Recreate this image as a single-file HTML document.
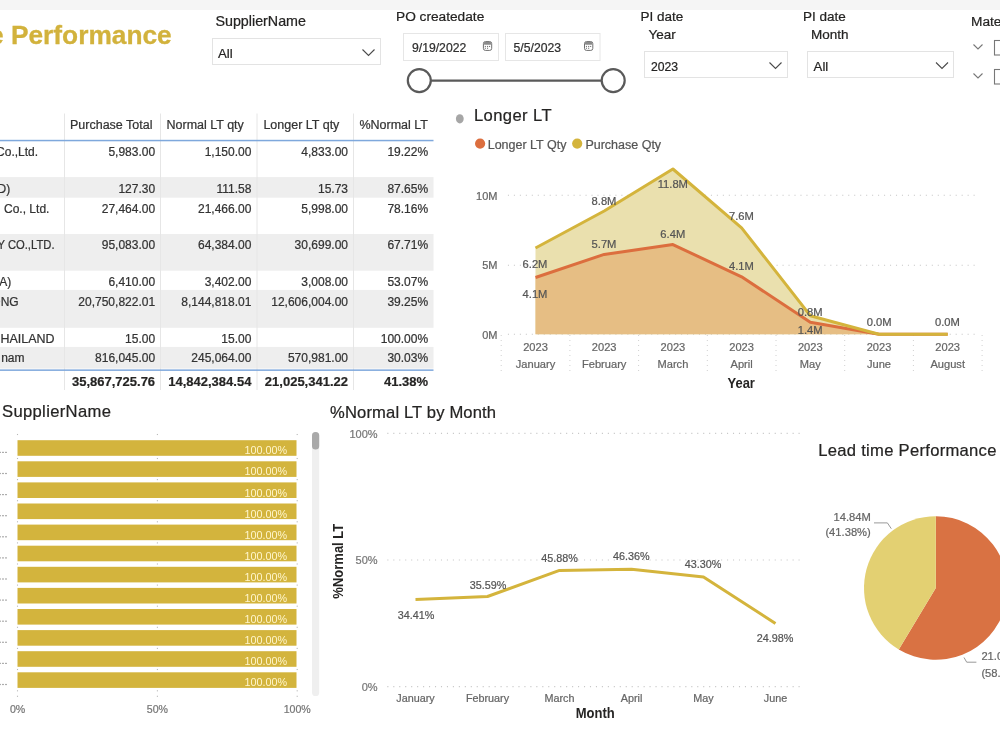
<!DOCTYPE html>
<html><head><meta charset="utf-8">
<style>
html,body{margin:0;padding:0;background:#fff;width:1000px;height:750px;overflow:hidden}
svg{display:block;will-change:transform;font-family:"Liberation Sans",sans-serif}
text{font-family:"Liberation Sans",sans-serif}
#slicers text{stroke:#252423;stroke-width:0.22}
</style></head><body>
<svg width="1000" height="750" viewBox="0 0 1000 750">
<rect stroke="none" x="0" y="0" width="1000" height="750" fill="#fff"/>
<rect stroke="none" x="0" y="0" width="1000" height="10" fill="#f5f5f5"/>

<!-- TITLE -->
<text x="-11" y="43.7" font-size="26.3" font-weight="700" fill="#d2b23c" stroke="#d2b23c" stroke-width="0.3">e Performance</text>

<!-- SLICERS -->
<g id="slicers" fill="#252423">
<text x="215.4" y="26" font-size="14.3">SupplierName</text>
<rect x="212.5" y="38.5" width="168" height="26" fill="#fff" stroke="#e3e3e3" stroke-width="1"/>
<text x="218" y="58" font-size="13.2">All</text>
<path d="M362.5 49.5 L368.5 55.5 L374.5 49.5" fill="none" stroke="#4a4a4a" stroke-width="1.1"/>

<text x="396" y="21.1" font-size="13.7">PO createdate</text>
<rect x="403.5" y="33.5" width="95" height="27" fill="#fff" stroke="#e6e6e6" stroke-width="1"/>
<rect x="505.5" y="33.5" width="94.5" height="27" fill="#fff" stroke="#e6e6e6" stroke-width="1"/>
<text x="412" y="52.3" font-size="12.2" fill="#333" stroke="#333" stroke-width="0.22">9/19/2022</text>
<text x="513.6" y="52.3" font-size="12.2" fill="#333" stroke="#333" stroke-width="0.22">5/5/2023</text>
<g transform="translate(482.9,41.1)"><rect x="0.5" y="0.5" width="8.3" height="8.8" rx="2" fill="none" stroke="#6f6f6f" stroke-width="1"/><rect stroke="none" x="1" y="1" width="7.3" height="2.6" rx="0.8" fill="#8a8a8a"/><g fill="#777"><rect stroke="none" x="1.9" y="4.8" width="1.1" height="1.1"/><rect stroke="none" x="4.1" y="4.8" width="1.1" height="1.1"/><rect stroke="none" x="6.1" y="4.8" width="1.1" height="1.1"/><rect stroke="none" x="1.9" y="6.6" width="1.1" height="1.1"/><rect stroke="none" x="4.1" y="6.6" width="1.1" height="1.1"/></g></g>
<g transform="translate(584,41.1)"><rect x="0.5" y="0.5" width="8.3" height="8.8" rx="2" fill="none" stroke="#6f6f6f" stroke-width="1"/><rect stroke="none" x="1" y="1" width="7.3" height="2.6" rx="0.8" fill="#8a8a8a"/><g fill="#777"><rect stroke="none" x="1.9" y="4.8" width="1.1" height="1.1"/><rect stroke="none" x="4.1" y="4.8" width="1.1" height="1.1"/><rect stroke="none" x="6.1" y="4.8" width="1.1" height="1.1"/><rect stroke="none" x="1.9" y="6.6" width="1.1" height="1.1"/><rect stroke="none" x="4.1" y="6.6" width="1.1" height="1.1"/></g></g>
<line x1="430" y1="80.6" x2="602" y2="80.6" stroke="#5a5a5a" stroke-width="2.4"/>
<circle cx="419.3" cy="80.6" r="11.5" fill="#fff" stroke="#5a5a5a" stroke-width="2.2"/>
<circle cx="613.2" cy="80.6" r="11.5" fill="#fff" stroke="#5a5a5a" stroke-width="2.2"/>

<text x="640.4" y="21" font-size="13.5">PI date</text>
<text x="648.4" y="39" font-size="13.5">Year</text>
<rect x="644.5" y="51.5" width="143" height="26" fill="#fff" stroke="#e3e3e3" stroke-width="1"/>
<text x="651" y="71" font-size="12.2">2023</text>
<path d="M769.5 62.5 L775.5 68.5 L781.5 62.5" fill="none" stroke="#4a4a4a" stroke-width="1.1"/>

<text x="803" y="21" font-size="13.5">PI date</text>
<text x="811" y="39" font-size="13.5">Month</text>
<rect x="807.5" y="51.5" width="146" height="26" fill="#fff" stroke="#e3e3e3" stroke-width="1"/>
<text x="813.6" y="71" font-size="13.2">All</text>
<path d="M936 62.5 L942 68.5 L948 62.5" fill="none" stroke="#4a4a4a" stroke-width="1.1"/>

<text x="971" y="26" font-size="13.7">Mate</text>
<path d="M973.5 44.5 L978 49 L982.5 44.5 M973.5 73.5 L978 78 L982.5 73.5" fill="none" stroke="#777" stroke-width="1.1"/>
<rect x="994.5" y="40.5" width="14" height="14.5" fill="#fff" stroke="#777" stroke-width="1.1"/>
<rect x="994.5" y="69.5" width="14" height="14.5" fill="#fff" stroke="#777" stroke-width="1.1"/>
</g>

<!-- TABLE -->
<g id="table" font-size="12" fill="#333" stroke="#333" stroke-width="0.22">
<rect stroke="none" x="0" y="177.1" width="433.5" height="20.6" fill="#eeeeee"/>
<rect stroke="none" x="0" y="234" width="433.5" height="36.7" fill="#eeeeee"/>
<rect stroke="none" x="0" y="289.9" width="433.5" height="37.9" fill="#eeeeee"/>
<rect stroke="none" x="0" y="346.9" width="433.5" height="21.7" fill="#eeeeee"/>
<g stroke="#e6e6e6" stroke-width="1">
<line x1="64.5" y1="113.5" x2="64.5" y2="390"/>
<line x1="160.5" y1="113.5" x2="160.5" y2="390"/>
<line x1="257" y1="113.5" x2="257" y2="390"/>
<line x1="353.5" y1="113.5" x2="353.5" y2="390"/>
</g>
<rect stroke="none" x="0" y="139.8" width="433.5" height="1.5" fill="#7fa8dc"/>
<rect stroke="none" x="0" y="369.4" width="433.5" height="1.5" fill="#7fa8dc"/>
<g font-size="12.5" fill="#333" stroke="#333" stroke-width="0.22">
<text x="70" y="129">Purchase Total</text>
<text x="166.5" y="129">Normal LT qty</text>
<text x="263.4" y="129">Longer LT qty</text>
<text x="359.4" y="129">%Normal LT</text>
</g>
<g text-anchor="end">
<text x="38.1" y="156.0">Co.,Ltd.</text>
<text x="155.1" y="156.0">5,983.00</text>
<text x="251.4" y="156.0">1,150.00</text>
<text x="348" y="156.0">4,833.00</text>
<text x="428.1" y="156.0">19.22%</text>
<text x="10.2" y="192.6">TD)</text>
<text x="155.1" y="192.6">127.30</text>
<text x="251.4" y="192.6">111.58</text>
<text x="348" y="192.6">15.73</text>
<text x="428.1" y="192.6">87.65%</text>
<text x="49.4" y="212.9">Co., Ltd.</text>
<text x="155.1" y="212.9">27,464.00</text>
<text x="251.4" y="212.9">21,466.00</text>
<text x="348" y="212.9">5,998.00</text>
<text x="428.1" y="212.9">78.16%</text>
<text x="54.5" y="249.4" textLength="57" lengthAdjust="spacingAndGlyphs">Y CO.,LTD.</text>
<text x="155.1" y="249.4">95,083.00</text>
<text x="251.4" y="249.4">64,384.00</text>
<text x="348" y="249.4">30,699.00</text>
<text x="428.1" y="249.4">67.71%</text>
<text x="11.2" y="286.0">(A)</text>
<text x="155.1" y="286.0">6,410.00</text>
<text x="251.4" y="286.0">3,402.00</text>
<text x="348" y="286.0">3,008.00</text>
<text x="428.1" y="286.0">53.07%</text>
<text x="18.7" y="306.3">ONG</text>
<text x="155.1" y="306.3">20,750,822.01</text>
<text x="251.4" y="306.3">8,144,818.01</text>
<text x="348" y="306.3">12,606,004.00</text>
<text x="428.1" y="306.3">39.25%</text>
<text x="54.5" y="342.5" textLength="54" lengthAdjust="spacingAndGlyphs">HAILAND</text>
<text x="155.1" y="342.5">15.00</text>
<text x="251.4" y="342.5">15.00</text>
<text x="428.1" y="342.5">100.00%</text>
<text x="24.5" y="362.4">nam</text>
<text x="155.1" y="362.4">816,045.00</text>
<text x="251.4" y="362.4">245,064.00</text>
<text x="348" y="362.4">570,981.00</text>
<text x="428.1" y="362.4">30.03%</text>
</g>
<g text-anchor="end" font-weight="700" font-size="13" fill="#252423">
<text x="155.1" y="385.9">35,867,725.76</text>
<text x="251.4" y="385.9">14,842,384.54</text>
<text x="348" y="385.9">21,025,341.22</text>
<text x="428.1" y="385.9">41.38%</text>
</g>
</g>

<!-- AREA CHART -->
<g id="area">
<line x1="507.9" y1="195.2" x2="975.2" y2="195.2" stroke="#c8c8c8" stroke-width="1.1" stroke-dasharray="1.1 4.87"/>
<line x1="507.9" y1="265.2" x2="975.2" y2="265.2" stroke="#c8c8c8" stroke-width="1.1" stroke-dasharray="1.1 4.87"/>
<line x1="507.9" y1="334.2" x2="975.2" y2="334.2" stroke="#c8c8c8" stroke-width="1.1" stroke-dasharray="1.1 4.87"/>
<line x1="501.2" y1="335" x2="501.2" y2="374" stroke="#d0d0d0" stroke-width="1" stroke-dasharray="1 4"/>
<line x1="569.9" y1="335" x2="569.9" y2="374" stroke="#d0d0d0" stroke-width="1" stroke-dasharray="1 4"/>
<line x1="638.6" y1="335" x2="638.6" y2="374" stroke="#d0d0d0" stroke-width="1" stroke-dasharray="1 4"/>
<line x1="707.3" y1="335" x2="707.3" y2="374" stroke="#d0d0d0" stroke-width="1" stroke-dasharray="1 4"/>
<line x1="776.0" y1="335" x2="776.0" y2="374" stroke="#d0d0d0" stroke-width="1" stroke-dasharray="1 4"/>
<line x1="844.7" y1="335" x2="844.7" y2="374" stroke="#d0d0d0" stroke-width="1" stroke-dasharray="1 4"/>
<line x1="913.4" y1="335" x2="913.4" y2="374" stroke="#d0d0d0" stroke-width="1" stroke-dasharray="1 4"/>
<line x1="982.1" y1="335" x2="982.1" y2="374" stroke="#d0d0d0" stroke-width="1" stroke-dasharray="1 4"/>
<polygon points="535.5,334.2 535.5,248.0 604.2,211.0 672.9,169.0 741.6,227.8 810.3,315.7 879.0,334.2 947.7,334.2 947.7,334.2" fill="#eae0ae"/>
<polygon points="535.5,334.2 535.5,277.5 604.2,254.4 672.9,244.6 741.6,276.8 810.3,322.3 879.0,334.2 947.7,334.2 947.7,334.2" fill="#e6be84"/>
<polyline points="535.5,277.5 604.2,254.4 672.9,244.6 741.6,276.8 810.3,322.3 879.0,334.2 947.7,334.2" fill="none" stroke="#dc6e3e" stroke-width="3" stroke-linejoin="round"/>
<polyline points="535.5,248.0 604.2,211.0 672.9,169.0 741.6,227.8 810.3,315.7 879.0,334.2 947.7,334.2" fill="none" stroke="#d4b43c" stroke-width="3" stroke-linejoin="round"/>
<g font-size="11" fill="#666" text-anchor="end" stroke="#666" stroke-width="0.22">
<text x="497.5" y="199.6">10M</text>
<text x="497.5" y="269.4">5M</text>
<text x="497.5" y="338.6">0M</text>
</g>
<g font-size="11.2" fill="#555" text-anchor="middle" stroke="#555" stroke-width="0.22">
<text x="535" y="267.5">6.2M</text>
<text x="535" y="297.5">4.1M</text>
<text x="604" y="204.5">8.8M</text>
<text x="604" y="248">5.7M</text>
<text x="672.8" y="188">11.8M</text>
<text x="672.8" y="237.5">6.4M</text>
<text x="741.4" y="220.4">7.6M</text>
<text x="741.4" y="269.6">4.1M</text>
<text x="810.2" y="315.7">0.8M</text>
<text x="810.2" y="333.8">1.4M</text>
<text x="879.2" y="326">0.0M</text>
<text x="947.4" y="326">0.0M</text>
</g>
<g font-size="11.1" fill="#666" text-anchor="middle" stroke="#666" stroke-width="0.22">
<text x="535.5" y="350.8">2023</text><text x="535.5" y="367.8">January</text>
<text x="604.2" y="350.8">2023</text><text x="604.2" y="367.8">February</text>
<text x="672.9" y="350.8">2023</text><text x="672.9" y="367.8">March</text>
<text x="741.6" y="350.8">2023</text><text x="741.6" y="367.8">April</text>
<text x="810.3" y="350.8">2023</text><text x="810.3" y="367.8">May</text>
<text x="879" y="350.8">2023</text><text x="879" y="367.8">June</text>
<text x="947.7" y="350.8">2023</text><text x="947.7" y="367.8">August</text>
</g>
<text x="741.2" y="388.2" font-size="14.2" font-weight="700" fill="#252423" text-anchor="middle" textLength="27.4" lengthAdjust="spacingAndGlyphs">Year</text>
<ellipse cx="459.8" cy="118.8" rx="3.9" ry="4.6" fill="#a6a6a6"/>
<text x="474" y="121.1" font-size="16.6" letter-spacing="0.39" fill="#252423" stroke="#252423" stroke-width="0.22">Longer LT</text>
<circle cx="480.1" cy="143.6" r="5.1" fill="#dc6e3e"/>
<circle cx="577.2" cy="143.6" r="5.1" fill="#d4b43c"/>
<g font-size="12.5" fill="#555" stroke="#555" stroke-width="0.22"><text x="487.7" y="148.7">Longer LT Qty</text><text x="585.4" y="148.7">Purchase Qty</text></g>
</g>

<!-- BAR CHART -->
<g id="bars">
<text x="2" y="416.7" font-size="16.6" letter-spacing="0.34" fill="#252423" stroke="#252423" stroke-width="0.22">SupplierName</text>
<g fill="#b8b8b8" stroke="none">
<rect x="16.95" y="433.95" width="1.1" height="1.1"/>
<rect x="16.95" y="457.95" width="1.1" height="1.1"/>
<rect x="16.95" y="479.05" width="1.1" height="1.1"/>
<rect x="16.95" y="500.15" width="1.1" height="1.1"/>
<rect x="16.95" y="521.25" width="1.1" height="1.1"/>
<rect x="16.95" y="542.35" width="1.1" height="1.1"/>
<rect x="16.95" y="563.45" width="1.1" height="1.1"/>
<rect x="16.95" y="584.55" width="1.1" height="1.1"/>
<rect x="16.95" y="605.65" width="1.1" height="1.1"/>
<rect x="16.95" y="626.75" width="1.1" height="1.1"/>
<rect x="16.95" y="647.85" width="1.1" height="1.1"/>
<rect x="16.95" y="668.95" width="1.1" height="1.1"/>
<rect x="16.95" y="690.25" width="1.1" height="1.1"/>
<rect x="16.95" y="695.75" width="1.1" height="1.1"/>
<rect x="156.85" y="433.95" width="1.1" height="1.1"/>
<rect x="156.85" y="457.95" width="1.1" height="1.1"/>
<rect x="156.85" y="479.05" width="1.1" height="1.1"/>
<rect x="156.85" y="500.15" width="1.1" height="1.1"/>
<rect x="156.85" y="521.25" width="1.1" height="1.1"/>
<rect x="156.85" y="542.35" width="1.1" height="1.1"/>
<rect x="156.85" y="563.45" width="1.1" height="1.1"/>
<rect x="156.85" y="584.55" width="1.1" height="1.1"/>
<rect x="156.85" y="605.65" width="1.1" height="1.1"/>
<rect x="156.85" y="626.75" width="1.1" height="1.1"/>
<rect x="156.85" y="647.85" width="1.1" height="1.1"/>
<rect x="156.85" y="668.95" width="1.1" height="1.1"/>
<rect x="156.85" y="690.25" width="1.1" height="1.1"/>
<rect x="156.85" y="695.75" width="1.1" height="1.1"/>
<rect x="296.65" y="433.95" width="1.1" height="1.1"/>
<rect x="296.65" y="457.95" width="1.1" height="1.1"/>
<rect x="296.65" y="479.05" width="1.1" height="1.1"/>
<rect x="296.65" y="500.15" width="1.1" height="1.1"/>
<rect x="296.65" y="521.25" width="1.1" height="1.1"/>
<rect x="296.65" y="542.35" width="1.1" height="1.1"/>
<rect x="296.65" y="563.45" width="1.1" height="1.1"/>
<rect x="296.65" y="584.55" width="1.1" height="1.1"/>
<rect x="296.65" y="605.65" width="1.1" height="1.1"/>
<rect x="296.65" y="626.75" width="1.1" height="1.1"/>
<rect x="296.65" y="647.85" width="1.1" height="1.1"/>
<rect x="296.65" y="668.95" width="1.1" height="1.1"/>
<rect x="296.65" y="690.25" width="1.1" height="1.1"/>
<rect x="296.65" y="695.75" width="1.1" height="1.1"/>
</g>
<rect stroke="none" x="17.5" y="440.2" width="279" height="15.6" fill="#d3b43d"/>
<rect stroke="none" x="17.5" y="461.3" width="279" height="15.6" fill="#d3b43d"/>
<rect stroke="none" x="17.5" y="482.4" width="279" height="15.6" fill="#d3b43d"/>
<rect stroke="none" x="17.5" y="503.5" width="279" height="15.6" fill="#d3b43d"/>
<rect stroke="none" x="17.5" y="524.6" width="279" height="15.6" fill="#d3b43d"/>
<rect stroke="none" x="17.5" y="545.7" width="279" height="15.6" fill="#d3b43d"/>
<rect stroke="none" x="17.5" y="566.8" width="279" height="15.6" fill="#d3b43d"/>
<rect stroke="none" x="17.5" y="587.9" width="279" height="15.6" fill="#d3b43d"/>
<rect stroke="none" x="17.5" y="609.0" width="279" height="15.6" fill="#d3b43d"/>
<rect stroke="none" x="17.5" y="630.1" width="279" height="15.6" fill="#d3b43d"/>
<rect stroke="none" x="17.5" y="651.2" width="279" height="15.6" fill="#d3b43d"/>
<rect stroke="none" x="17.5" y="672.3" width="279" height="15.6" fill="#d3b43d"/>
<g font-size="10.8" fill="#fff6cc" text-anchor="end">
<text x="287.2" y="454.3">100.00%</text>
<text x="287.2" y="475.4">100.00%</text>
<text x="287.2" y="496.5">100.00%</text>
<text x="287.2" y="517.6">100.00%</text>
<text x="287.2" y="538.7">100.00%</text>
<text x="287.2" y="559.8">100.00%</text>
<text x="287.2" y="580.9">100.00%</text>
<text x="287.2" y="602.0">100.00%</text>
<text x="287.2" y="623.1">100.00%</text>
<text x="287.2" y="644.2">100.00%</text>
<text x="287.2" y="665.3">100.00%</text>
<text x="287.2" y="686.4">100.00%</text>
</g>
<g fill="#777">
<rect stroke="none" x="-0.6" y="451.8" width="1.2" height="1.2"/>
<rect stroke="none" x="2.4" y="451.8" width="1.2" height="1.2"/>
<rect stroke="none" x="5.4" y="451.8" width="1.2" height="1.2"/>
<rect stroke="none" x="-0.6" y="472.9" width="1.2" height="1.2"/>
<rect stroke="none" x="2.4" y="472.9" width="1.2" height="1.2"/>
<rect stroke="none" x="5.4" y="472.9" width="1.2" height="1.2"/>
<rect stroke="none" x="-0.6" y="494.0" width="1.2" height="1.2"/>
<rect stroke="none" x="2.4" y="494.0" width="1.2" height="1.2"/>
<rect stroke="none" x="5.4" y="494.0" width="1.2" height="1.2"/>
<rect stroke="none" x="-0.6" y="515.1" width="1.2" height="1.2"/>
<rect stroke="none" x="2.4" y="515.1" width="1.2" height="1.2"/>
<rect stroke="none" x="5.4" y="515.1" width="1.2" height="1.2"/>
<rect stroke="none" x="-0.6" y="536.2" width="1.2" height="1.2"/>
<rect stroke="none" x="2.4" y="536.2" width="1.2" height="1.2"/>
<rect stroke="none" x="5.4" y="536.2" width="1.2" height="1.2"/>
<rect stroke="none" x="-0.6" y="557.3" width="1.2" height="1.2"/>
<rect stroke="none" x="2.4" y="557.3" width="1.2" height="1.2"/>
<rect stroke="none" x="5.4" y="557.3" width="1.2" height="1.2"/>
<rect stroke="none" x="-0.6" y="578.4" width="1.2" height="1.2"/>
<rect stroke="none" x="2.4" y="578.4" width="1.2" height="1.2"/>
<rect stroke="none" x="5.4" y="578.4" width="1.2" height="1.2"/>
<rect stroke="none" x="-0.6" y="599.5" width="1.2" height="1.2"/>
<rect stroke="none" x="2.4" y="599.5" width="1.2" height="1.2"/>
<rect stroke="none" x="5.4" y="599.5" width="1.2" height="1.2"/>
<rect stroke="none" x="-0.6" y="620.6" width="1.2" height="1.2"/>
<rect stroke="none" x="2.4" y="620.6" width="1.2" height="1.2"/>
<rect stroke="none" x="5.4" y="620.6" width="1.2" height="1.2"/>
<rect stroke="none" x="-0.6" y="641.7" width="1.2" height="1.2"/>
<rect stroke="none" x="2.4" y="641.7" width="1.2" height="1.2"/>
<rect stroke="none" x="5.4" y="641.7" width="1.2" height="1.2"/>
<rect stroke="none" x="-0.6" y="662.8" width="1.2" height="1.2"/>
<rect stroke="none" x="2.4" y="662.8" width="1.2" height="1.2"/>
<rect stroke="none" x="5.4" y="662.8" width="1.2" height="1.2"/>
<rect stroke="none" x="-0.6" y="683.9" width="1.2" height="1.2"/>
<rect stroke="none" x="2.4" y="683.9" width="1.2" height="1.2"/>
<rect stroke="none" x="5.4" y="683.9" width="1.2" height="1.2"/>
</g>
<g font-size="10.6" fill="#777" text-anchor="middle" stroke="#777" stroke-width="0.22"><text x="17.6" y="712.8">0%</text><text x="157.4" y="712.8">50%</text><text x="297.2" y="712.8">100%</text></g>
<rect stroke="none" x="312" y="432" width="7.2" height="264" rx="3.6" fill="#efefef"/>
<rect stroke="none" x="312" y="432" width="7.2" height="17.6" rx="3.6" fill="#a9a9a9"/>
</g>

<!-- LINE CHART -->
<g id="line">
<text x="330" y="417.5" font-size="16.6" letter-spacing="0.14" fill="#252423" stroke="#252423" stroke-width="0.22">%Normal LT by Month</text>
<line x1="387.3" y1="433.4" x2="800.2" y2="433.4" stroke="#c8c8c8" stroke-width="1.1" stroke-dasharray="1.1 4.86"/>
<line x1="387.3" y1="560" x2="800.2" y2="560" stroke="#c8c8c8" stroke-width="1.1" stroke-dasharray="1.1 4.86"/>
<line x1="387.3" y1="686.6" x2="800.2" y2="686.6" stroke="#c8c8c8" stroke-width="1.1" stroke-dasharray="1.1 4.86"/>
<g font-size="11" fill="#777" text-anchor="end" stroke="#777" stroke-width="0.22"><text x="377.6" y="438">100%</text><text x="377.6" y="564.4">50%</text><text x="377.6" y="690.8">0%</text></g>
<text transform="translate(342.6,561.2) rotate(-90)" font-size="13.8" font-weight="700" fill="#252423" text-anchor="middle" textLength="75" lengthAdjust="spacingAndGlyphs">%Normal LT</text>
<polyline points="415.5,599.5 487.5,596.5 559.5,570.4 631.5,569.2 703.5,577.0 775.5,623.4" fill="none" stroke="#d4b43c" stroke-width="3" stroke-linejoin="round"/>
<g font-size="10.8" fill="#555" text-anchor="middle" stroke="#555" stroke-width="0.22">
<text x="416" y="618.5">34.41%</text>
<text x="488" y="588.6">35.59%</text>
<text x="559.5" y="561.5">45.88%</text>
<text x="631.2" y="560.4">46.36%</text>
<text x="703" y="568.4">43.30%</text>
<text x="775" y="641.6">24.98%</text>
</g>
<g font-size="10.8" fill="#666" text-anchor="middle" stroke="#666" stroke-width="0.22">
<text x="415.5" y="701.7">January</text>
<text x="487.5" y="701.7">February</text>
<text x="559.5" y="701.7">March</text>
<text x="631.5" y="701.7">April</text>
<text x="703.5" y="701.7">May</text>
<text x="775.5" y="701.7">June</text>
</g>
<text x="595.2" y="718.2" font-size="14.2" font-weight="700" fill="#252423" text-anchor="middle" textLength="39" lengthAdjust="spacingAndGlyphs">Month</text>
</g>

<!-- PIE -->
<g id="pie">
<text x="818.3" y="456.3" font-size="16.6" letter-spacing="0.28" fill="#252423" stroke="#252423" stroke-width="0.22">Lead time Performance</text>
<path d="M935.8,588 L935.8,516.2 A71.8,71.8 0 1 1 898.79,649.52 Z" fill="#d97243"/>
<path d="M935.8,588 L898.79,649.52 A71.8,71.8 0 0 1 935.8,516.2 Z" fill="#e3d072"/>
<g font-size="11.2" fill="#666" text-anchor="end" stroke="#666" stroke-width="0.22"><text x="870.8" y="521">14.84M</text><text x="870.8" y="536.4">(41.38%)</text></g>
<g font-size="11.2" fill="#666" stroke="#666" stroke-width="0.22"><text x="981.4" y="660">21.03M</text><text x="981.4" y="676.5">(58.62%)</text></g>
<path d="M874 522.9 H887.4 L891.3 528.7 M964 657.5 L966.7 662.2 H976.4" fill="none" stroke="#999" stroke-width="1"/>
</g>
</svg>
</body></html>
